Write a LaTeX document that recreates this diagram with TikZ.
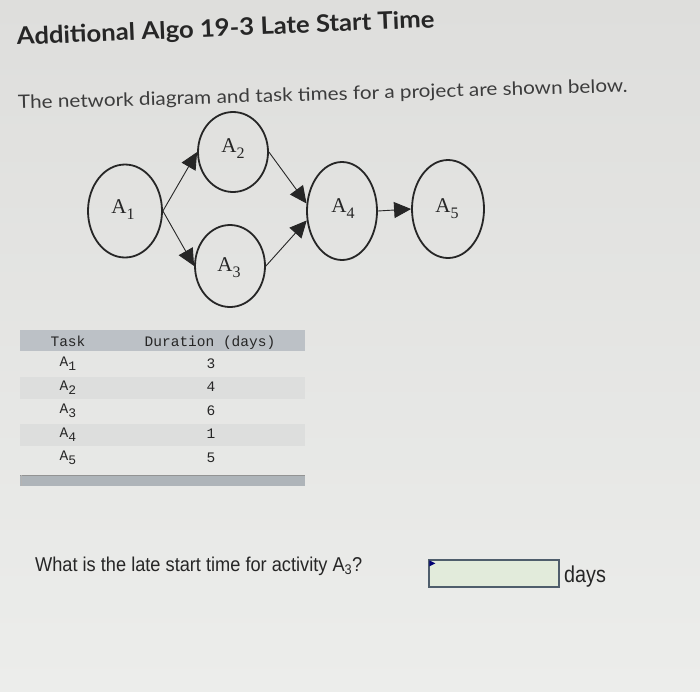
\documentclass[tikz,border=0pt]{standalone}
\usepackage{fontspec}
\setmainfont{Liberation Serif}
\newfontfamily\titlefont{Lato}
\newfontfamily\monofont{Liberation Mono}
\newfontfamily\qfont{Liberation Sans}
\usetikzlibrary{arrows.meta,shapes.geometric}
\definecolor{bgtop}{HTML}{DEDEDC}
\definecolor{bgbot}{HTML}{ECEDEB}
\definecolor{ink}{HTML}{262626}
\definecolor{headband}{HTML}{BCC1C6}
\definecolor{stripe}{HTML}{DDDEDD}
\definecolor{footbar}{HTML}{AEB4B9}
\definecolor{boxfill}{HTML}{E2EBDB}
\definecolor{boxline}{HTML}{4F5E6C}
\tikzset{
  task/.style={ellipse, draw=ink, line width=1.8pt, inner sep=0pt, font=\fontsize{20}{20}\selectfont, text=ink},
  link/.style={draw=ink, line width=0.9pt, -{Triangle[length=17pt,width=16pt]}},
  monotext/.style={font=\monofont\fontsize{14.5}{14.5}\selectfont, text=ink, anchor=base},
  label/.style={font=\fontsize{21}{21}\selectfont, text=ink},
}
\newcommand{\nsub}[1]{A\raisebox{-0.28em}{\fontsize{16}{16}\selectfont #1}}
\newcommand{\msub}[1]{A\raisebox{-0.3em}{\fontsize{13}{13}\selectfont #1}}
\begin{document}
\begin{tikzpicture}[x=1pt,y=-1pt]
\useasboundingbox (0,0) rectangle (700,691);
\shade[top color=bgtop, bottom color=bgbot] (0,0) rectangle (700,691);

% title and intro
\node[anchor=base west, rotate=2.4, xscale=1.07, inner sep=0pt, text=ink, font=\titlefont\bfseries\fontsize{24}{24}\selectfont] (title) at (17,45) {Additional Algo 19-3 Late Start Time};
\node[anchor=base west, rotate=1.6, xscale=1.12, inner sep=0pt, text=ink!90, font=\titlefont\fontsize{18.5}{18.5}\selectfont] (intro) at (18,109) {The network diagram and task times for a project are shown below.};

% network
\node[task, minimum width=74pt, minimum height=93pt] (a1) at (125,211) {};
\node[task, minimum width=70pt, minimum height=80pt] (a2) at (233,152) {};
\node[task, minimum width=70pt, minimum height=82pt] (a3) at (230,266) {};
\node[task, minimum width=70pt, minimum height=98pt] (a4) at (342,211) {};
\node[task, minimum width=72pt, minimum height=98pt] (a5) at (448,209) {};
\node[label] (l1) at (123,210) {\nsub{1}};
\node[label] (l2) at (233,149) {\nsub{2}};
\node[label] (l3) at (229,268) {\nsub{3}};
\node[label] (l4) at (343,209) {\nsub{4}};
\node[label] (l5) at (447,209) {\nsub{5}};

\draw[link] (a1.east) -- (a2.west);
\draw[link] (a1.east) -- (a3.west);
\draw[link] (a2.east) -- (a4.168);
\draw[link] (a3.east) -- (a4.195);
\draw[link] (a4.east) -- (a5.west);

% table
\fill[headband] (20,330) rectangle (305,351);
\fill[stripe] (20,377) rectangle (305,399);
\fill[stripe] (20,424) rectangle (305,446);
\node[monotext] (th1) at (68,346) {Task};
\node[monotext] (th2) at (210,346) {Duration (days)};
\node[monotext] (t1) at (68,366) {\msub{1}};
\node[monotext] (t2) at (68,390) {\msub{2}};
\node[monotext] (t3) at (68,413) {\msub{3}};
\node[monotext] (t4) at (68,437) {\msub{4}};
\node[monotext] (t5) at (68,460) {\msub{5}};
\node[monotext] (d1) at (211,368) {3};
\node[monotext] (d2) at (211,391) {4};
\node[monotext] (d3) at (211,415) {6};
\node[monotext] (d4) at (211,438) {1};
\node[monotext] (d5) at (211,462) {5};
\fill[footbar] (20,475) rectangle (305,486);
\draw[ink!50, line width=0.8pt] (20,475) -- (305,475);
\draw[ink!35, line width=0.8pt] (21,475) -- (21,486);

% question
\node[anchor=base west, inner sep=0pt, text=ink, font=\qfont\fontsize{20}{20}\selectfont, xscale=0.91] (q) at (35,571) {What is the late start time for activity A\textsubscript{3}?};
\node[draw=boxline, fill=boxfill, line width=1.2pt, minimum width=130pt, minimum height=27pt, inner sep=0pt] (ans) at (494,573.5) {};
\fill[blue!45!black] (ans.north west) ++(1,1) -- ++(6,3) -- ++(-6,3) -- cycle;
\node[anchor=base west, inner sep=0pt, text=ink, font=\qfont\fontsize{23}{23}\selectfont, xscale=0.86] (days) at (564,582) {days};
\end{tikzpicture}
\end{document}
